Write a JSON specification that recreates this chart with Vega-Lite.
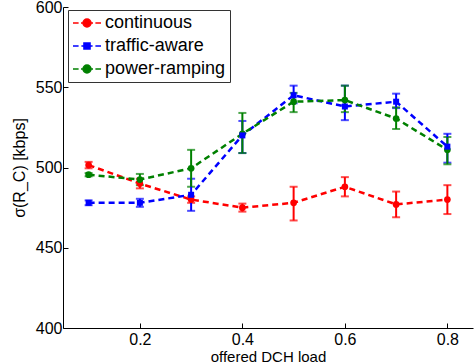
{
  "$schema": "https://vega.github.io/schema/vega-lite/v6.json",
  "width": 410,
  "height": 321,
  "autosize": {"type": "none"},
  "padding": {"left": 63, "top": 7, "right": 1, "bottom": 36},
  "background": "white",
  "config": {
    "view": {"stroke": null},
    "font": "Liberation Sans",
    "axis": {
      "domainColor": "black",
      "domainWidth": 1,
      "tickColor": "black",
      "tickSize": -5,
      "grid": false,
      "labelFont": "Liberation Sans",
      "labelFontSize": 16,
      "labelColor": "black",
      "titleFont": "Liberation Sans",
      "titleFontSize": 16,
      "titleFontWeight": "normal",
      "titleColor": "black"
    }
  },
  "data": {
    "values": [
      {"series": "continuous", "x": 0.1, "y": 501.5, "lo": 499.5, "hi": 503.5},
      {"series": "continuous", "x": 0.2, "y": 490, "lo": 487, "hi": 493},
      {"series": "continuous", "x": 0.3, "y": 480, "lo": 478, "hi": 482},
      {"series": "continuous", "x": 0.4, "y": 475, "lo": 472.5, "hi": 477.5},
      {"series": "continuous", "x": 0.5, "y": 478, "lo": 467, "hi": 488},
      {"series": "continuous", "x": 0.6, "y": 488, "lo": 482, "hi": 494},
      {"series": "continuous", "x": 0.7, "y": 477, "lo": 469, "hi": 485},
      {"series": "continuous", "x": 0.8, "y": 480, "lo": 471, "hi": 489},
      {"series": "traffic-aware", "x": 0.1, "y": 478, "lo": 476.5, "hi": 479.5},
      {"series": "traffic-aware", "x": 0.2, "y": 478, "lo": 475.5, "hi": 480.5},
      {"series": "traffic-aware", "x": 0.3, "y": 483, "lo": 473, "hi": 493},
      {"series": "traffic-aware", "x": 0.4, "y": 520, "lo": 509, "hi": 529},
      {"series": "traffic-aware", "x": 0.5, "y": 545, "lo": 540, "hi": 551},
      {"series": "traffic-aware", "x": 0.6, "y": 538, "lo": 529.5, "hi": 551},
      {"series": "traffic-aware", "x": 0.7, "y": 541, "lo": 537, "hi": 546},
      {"series": "traffic-aware", "x": 0.8, "y": 513, "lo": 503, "hi": 521},
      {"series": "power-ramping", "x": 0.1, "y": 495.5, "lo": 494.5, "hi": 496.5},
      {"series": "power-ramping", "x": 0.2, "y": 492.5, "lo": 489, "hi": 496},
      {"series": "power-ramping", "x": 0.3, "y": 499.5, "lo": 488, "hi": 511},
      {"series": "power-ramping", "x": 0.4, "y": 521, "lo": 509, "hi": 534},
      {"series": "power-ramping", "x": 0.5, "y": 541, "lo": 534.5, "hi": 546.5},
      {"series": "power-ramping", "x": 0.6, "y": 542, "lo": 534.5, "hi": 551},
      {"series": "power-ramping", "x": 0.7, "y": 530.5, "lo": 524, "hi": 537.5},
      {"series": "power-ramping", "x": 0.8, "y": 511, "lo": 502, "hi": 519}
    ]
  },
  "encoding": {
    "x": {
      "field": "x",
      "type": "quantitative",
      "scale": {"domain": [0.05, 0.85], "nice": false, "zero": false},
      "axis": {"values": [0.2, 0.4, 0.6, 0.8], "format": ".1f", "labelPadding": 8, "title": "offered DCH load", "titleFontSize": 15, "titlePadding": 2, "labelFlush": false}
    },
    "color": {
      "field": "series",
      "type": "nominal",
      "scale": {"domain": ["continuous", "traffic-aware", "power-ramping"], "range": ["#FF0000", "#0000FF", "#008000"]},
      "legend": {
        "orient": "none",
        "legendX": 5,
        "legendY": 3,
        "title": null,
        "strokeColor": "#333333",
        "fillColor": "white",
        "padding": 4,
        "rowPadding": 5,
        "symbolSize": 256,
        "symbolOffset": 6,
        "labelOffset": 9,
        "labelFont": "Liberation Sans",
        "labelFontSize": 18,
        "labelColor": "black",
        "encode": {
          "symbols": {
            "update": {
              "shape": {"signal": "datum.value === 'traffic-aware' ? 'M-1.75,0H-1.05M-0.7,0H-0.45M0.45,0H0.7M1.05,0H1.75M-0.38,-0.38H0.38V0.38H-0.38Z' : 'M-1.75,0H-1.05M-0.75,0H-0.55M0.55,0H0.75M1.05,0H1.75M0.5,0A0.5,0.5 0 1,1 -0.5,0A0.5,0.5 0 1,1 0.5,0Z'"},
              "fill": {"signal": "datum.value === 'continuous' ? '#FF0000' : datum.value === 'traffic-aware' ? '#0000FF' : '#008000'"},
              "stroke": {"signal": "datum.value === 'continuous' ? '#FF0000' : datum.value === 'traffic-aware' ? '#0000FF' : '#008000'"},
              "strokeWidth": {"value": 1.5},
              "opacity": {"value": 1}
            }
          }
        }
      }
    }
  },
  "layer": [
    {
      "mark": {"type": "errorbar", "ticks": {"size": 8, "thickness": 2}, "thickness": 2},
      "encoding": {
        "y": {"field": "lo", "type": "quantitative", "scale": {"domain": [400, 600], "nice": false, "zero": false},
          "axis": {"values": [400, 450, 500, 550, 600], "labelPadding": 6, "title": "σ(R_C) [kbps]", "titlePadding": 8}},
        "y2": {"field": "hi"}
      }
    },
    {
      "mark": {"type": "line", "strokeDash": [6, 4], "strokeWidth": 2.5},
      "encoding": {"y": {"field": "y", "type": "quantitative"}}
    },
    {
      "transform": [{"filter": "datum.series !== 'traffic-aware'"}],
      "mark": {"type": "point", "shape": "circle", "filled": true, "opacity": 1, "size": 45},
      "encoding": {"y": {"field": "y", "type": "quantitative"}}
    },
    {
      "transform": [{"filter": "datum.series === 'traffic-aware'"}],
      "mark": {"type": "point", "shape": "square", "filled": true, "opacity": 1, "size": 36},
      "encoding": {"y": {"field": "y", "type": "quantitative"}}
    }
  ]
}
